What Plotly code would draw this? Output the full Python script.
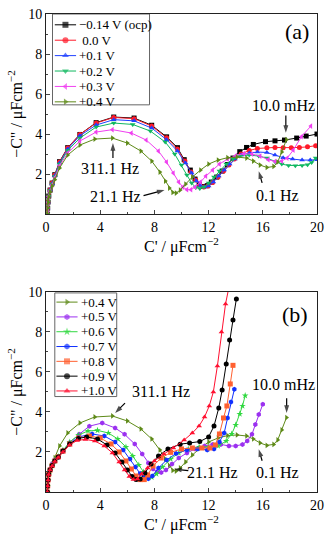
import plotly.graph_objects as go

# ---- panel (a): -0.14 V (ocp) .. +0.4 V
a_m014_x = [0.1, 0.12, 0.15, 0.2, 0.3, 0.45, 0.65, 1.0, 1.6, 2.5, 3.7, 5.0, 6.5, 7.8, 8.9, 9.7, 10.2, 10.65, 11.0, 11.3, 11.6, 11.9, 12.2, 12.6, 13.0, 13.4, 13.8, 14.3, 14.8, 15.3, 16.2, 16.9, 17.6, 18.5, 19.2, 20.0]
a_m014_y = [0.0, 0.3, 0.6, 0.9, 1.2, 1.55, 1.97, 2.62, 3.32, 3.98, 4.57, 4.85, 4.8, 4.44, 3.86, 3.32, 2.72, 2.2, 1.75, 1.5, 1.38, 1.42, 1.6, 1.85, 2.15, 2.48, 2.8, 3.12, 3.33, 3.48, 3.62, 3.66, 3.7, 3.8, 3.9, 4.0]

a_p00_x = [0.1, 0.12, 0.15, 0.2, 0.3, 0.45, 0.65, 1.0, 1.6, 2.5, 3.7, 5.0, 6.5, 7.8, 8.9, 9.7, 10.25, 10.7, 11.05, 11.35, 11.65, 11.95, 12.3, 12.7, 13.1, 13.5, 13.9, 14.4, 15.0, 15.6, 16.3, 16.9, 17.5, 18.1, 18.7, 19.3, 19.9]
a_p00_y = [0.0, 0.3, 0.6, 0.9, 1.2, 1.55, 1.95, 2.6, 3.3, 3.98, 4.55, 4.83, 4.77, 4.4, 3.82, 3.25, 2.65, 2.1, 1.7, 1.45, 1.35, 1.4, 1.58, 1.85, 2.15, 2.45, 2.75, 3.0, 3.18, 3.28, 3.32, 3.33, 3.32, 3.32, 3.33, 3.36, 3.42]

a_p01_x = [0.1, 0.12, 0.15, 0.2, 0.3, 0.45, 0.65, 1.0, 1.6, 2.5, 3.7, 5.0, 6.5, 7.8, 8.9, 9.7, 10.3, 10.75, 11.1, 11.4, 11.7, 12.0, 12.35, 12.75, 13.15, 13.55, 13.95, 14.4, 15.0, 15.6, 16.3, 16.9, 17.5, 18.2, 18.9, 19.5, 20.0]
a_p01_y = [0.0, 0.3, 0.6, 0.9, 1.2, 1.52, 1.92, 2.55, 3.25, 3.92, 4.45, 4.72, 4.66, 4.3, 3.72, 3.15, 2.55, 2.05, 1.65, 1.43, 1.35, 1.4, 1.6, 1.9, 2.2, 2.5, 2.75, 2.95, 3.05, 3.1, 3.08, 2.95, 2.82, 2.75, 2.7, 2.7, 2.72]

a_p02_x = [0.1, 0.12, 0.15, 0.2, 0.3, 0.45, 0.65, 1.0, 1.6, 2.5, 3.7, 5.0, 6.4, 7.7, 8.8, 9.5, 10.0, 10.4, 10.75, 11.05, 11.35, 11.65, 12.0, 12.4, 12.8, 13.3, 13.8, 14.3, 15.0, 15.7, 16.3, 16.9, 17.4, 17.9, 18.4, 18.9, 19.3, 19.6, 19.9]
a_p02_y = [0.0, 0.3, 0.6, 0.9, 1.18, 1.5, 1.88, 2.5, 3.18, 3.8, 4.35, 4.55, 4.48, 4.15, 3.6, 3.0, 2.45, 1.95, 1.55, 1.33, 1.28, 1.35, 1.55, 1.85, 2.15, 2.5, 2.75, 2.9, 2.95, 2.9, 2.8, 2.62, 2.5, 2.43, 2.42, 2.43, 2.47, 2.58, 2.8]

a_p03_x = [0.1, 0.12, 0.15, 0.2, 0.3, 0.45, 0.65, 1.0, 1.6, 2.5, 3.7, 4.9, 6.3, 7.4, 8.3, 8.9, 9.4, 9.8, 10.1, 10.4, 10.7, 11.0, 11.4, 11.8, 12.3, 12.8, 13.4, 14.0, 14.6, 15.2, 15.8, 16.4, 16.9, 17.4, 17.8, 18.25, 18.85, 19.55]
a_p03_y = [0.0, 0.3, 0.6, 0.88, 1.15, 1.45, 1.82, 2.42, 3.05, 3.65, 4.1, 4.22, 4.05, 3.7, 3.15, 2.6, 2.05, 1.6, 1.35, 1.22, 1.22, 1.35, 1.6, 1.9, 2.2, 2.5, 2.75, 2.92, 3.02, 3.0, 2.9, 2.72, 2.63, 2.65, 2.8, 3.2, 3.87, 4.4]

p04_x = [0.1, 0.12, 0.15, 0.2, 0.3, 0.45, 0.65, 1.0, 1.6, 2.5, 3.6, 4.9, 6.0, 7.0, 7.8, 8.4, 8.8, 9.1, 9.35, 9.6, 9.9, 10.3, 10.8, 11.4, 12.0, 12.7, 13.4, 14.1, 14.8, 15.3, 15.8, 16.3, 16.8, 17.1, 17.4, 17.75]
p04_y = [0.0, 0.3, 0.58, 0.85, 1.1, 1.4, 1.72, 2.3, 2.95, 3.45, 3.75, 3.8, 3.55, 3.15, 2.65, 2.1, 1.65, 1.3, 1.08, 1.05, 1.2, 1.5, 1.85, 2.2, 2.5, 2.7, 2.82, 2.85, 2.8, 2.65, 2.45, 2.33, 2.38, 2.6, 3.1, 3.72]

# ---- panel (b): +0.4 V .. +1.0 V
b_p05_x = [0.1, 0.12, 0.15, 0.2, 0.3, 0.45, 0.65, 0.9, 1.25, 1.75, 2.45, 3.2, 4.15, 5.1, 5.8, 6.55, 7.1, 7.55, 7.9, 8.2, 8.5, 8.85, 9.3, 9.8, 10.4, 11.0, 11.7, 12.3, 12.9, 13.5, 14.0, 14.5, 14.85, 15.2, 15.45, 15.7, 16.0]
b_p05_y = [0.0, 0.3, 0.6, 0.9, 1.15, 1.4, 1.6, 1.73, 2.06, 2.47, 2.88, 3.29, 3.45, 3.2, 2.88, 2.4, 1.9, 1.45, 1.15, 1.0, 0.98, 1.1, 1.4, 1.7, 1.95, 2.15, 2.3, 2.38, 2.38, 2.3, 2.3, 2.38, 2.55, 2.88, 3.37, 3.87, 4.39]

b_p06_x = [0.1, 0.12, 0.15, 0.2, 0.3, 0.45, 0.65, 0.9, 1.25, 1.75, 2.4, 3.1, 3.8, 4.6, 5.3, 5.9, 6.4, 6.85, 7.2, 7.5, 7.8, 8.15, 8.6, 9.2, 9.8, 10.5, 11.3, 12.0, 12.7, 13.3, 13.7, 14.0, 14.3, 14.5, 14.7]
b_p06_y = [0.0, 0.3, 0.6, 0.88, 1.12, 1.35, 1.58, 1.78, 2.1, 2.5, 2.85, 3.05, 3.08, 2.95, 2.65, 2.25, 1.8, 1.35, 1.0, 0.8, 0.74, 0.9, 1.25, 1.65, 1.95, 2.15, 2.25, 2.25, 2.3, 2.55, 2.9, 3.35, 3.9, 4.3, 4.82]

b_p07_x = [0.1, 0.12, 0.15, 0.2, 0.3, 0.45, 0.65, 0.9, 1.25, 1.75, 2.4, 3.4, 4.3, 5.1, 5.7, 6.2, 6.6, 6.95, 7.25, 7.55, 7.85, 8.3, 8.9, 9.6, 10.4, 11.2, 11.9, 12.4, 12.8, 13.15, 13.4, 13.65, 13.9]
b_p07_y = [0.0, 0.3, 0.6, 0.88, 1.1, 1.32, 1.55, 1.75, 2.05, 2.42, 2.75, 2.9, 2.8, 2.5, 2.1, 1.65, 1.25, 0.92, 0.72, 0.66, 0.8, 1.2, 1.6, 1.92, 2.1, 2.15, 2.1, 2.15, 2.5, 2.95, 3.7, 4.5, 5.13]

b_p08_x = [0.1, 0.12, 0.15, 0.2, 0.3, 0.45, 0.65, 0.9, 1.25, 1.75, 2.4, 3.2, 4.0, 4.8, 5.4, 5.9, 6.3, 6.65, 6.95, 7.25, 7.5, 7.9, 8.5, 9.2, 10.0, 10.8, 11.5, 12.1, 12.5, 12.8, 13.1, 13.35, 13.6, 13.8]
b_p08_y = [0.0, 0.3, 0.6, 0.88, 1.1, 1.32, 1.55, 1.75, 2.05, 2.4, 2.7, 2.8, 2.7, 2.4, 2.0, 1.55, 1.15, 0.8, 0.62, 0.62, 0.85, 1.3, 1.7, 1.98, 2.15, 2.2, 2.2, 2.2, 2.35, 2.9, 3.7, 4.3, 5.4, 6.33]

b_p09_x = [0.1, 0.12, 0.15, 0.2, 0.3, 0.45, 0.65, 0.9, 1.25, 1.75, 2.4, 3.0, 3.8, 4.5, 5.1, 5.6, 6.0, 6.35, 6.65, 6.95, 7.3, 7.75, 8.3, 9.0, 9.9, 10.6, 11.35, 12.0, 12.4, 12.75, 13.0, 13.3, 13.55, 13.8, 14.05]
b_p09_y = [0.0, 0.3, 0.6, 0.88, 1.1, 1.32, 1.55, 1.75, 2.05, 2.4, 2.68, 2.75, 2.65, 2.35, 1.95, 1.5, 1.1, 0.78, 0.62, 0.65, 0.95, 1.4, 1.8, 2.15, 2.39, 2.45, 2.52, 2.75, 3.3, 4.2, 5.1, 6.4, 7.6, 8.6, 9.65]

b_p10_x = [0.1, 0.12, 0.15, 0.2, 0.3, 0.45, 0.65, 0.9, 1.25, 1.75, 2.3, 2.9, 3.6, 4.3, 4.9, 5.4, 5.8, 6.15, 6.45, 6.75, 7.05, 7.5, 8.0, 8.7, 9.4, 10.2, 10.8, 11.3, 11.7, 12.05, 12.35, 12.65, 12.95, 13.25, 13.55]
b_p10_y = [0.0, 0.3, 0.6, 0.88, 1.1, 1.3, 1.52, 1.72, 2.0, 2.35, 2.58, 2.63, 2.55, 2.3, 1.95, 1.5, 1.1, 0.78, 0.62, 0.65, 0.9, 1.2, 1.55, 1.9, 2.2, 2.6, 2.95, 3.3, 3.75, 4.3, 5.0, 6.3, 8.0, 9.4, 10.4]

a_labels = ["\u22120.14 V (ocp)", " 0.0 V", "+0.1 V", "+0.2 V", "+0.3 V", "+0.4 V"]
b_labels = ["+0.4 V", "+0.5 V", "+0.6 V", "+0.7 V", "+0.8 V", "+0.9 V", "+1.0 V"]

x_ticks = [0, 4, 8, 12, 16, 20]
y_ticks = [2, 4, 6, 8, 10]

FONT = "Times New Roman, Liberation Serif, DejaVu Serif, serif"

panel_a = [
    (a_m014_x, a_m014_y, "#000000", "square"),
    (a_p00_x, a_p00_y, "#ff1a2a", "circle"),
    (a_p01_x, a_p01_y, "#2040ff", "triangle-up"),
    (a_p02_x, a_p02_y, "#10b860", "triangle-down"),
    (a_p03_x, a_p03_y, "#f040f0", "triangle-left"),
    (p04_x, p04_y, "#5e8a18", "triangle-right"),
]
panel_b = [
    (p04_x, p04_y, "#5e8a18", "triangle-right"),
    (b_p05_x, b_p05_y, "#9b30f0", "hexagon"),
    (b_p06_x, b_p06_y, "#30d840", "star"),
    (b_p07_x, b_p07_y, "#1030ff", "hexagon"),
    (b_p08_x, b_p08_y, "#ff6030", "square"),
    (b_p09_x, b_p09_y, "#000000", "circle"),
    (b_p10_x, b_p10_y, "#ff1030", "triangle-up"),
]

fig = go.Figure()

def add_panel(series, labels, xa, ya, row0, drow, lx0, lx1, tx, box):
    for (xs, ys, col, sym), lab in zip(series, labels):
        fig.add_trace(go.Scatter(
            x=xs, y=ys, mode="lines+markers", xaxis=xa, yaxis=ya,
            line=dict(color=col, width=1), marker=dict(color=col, symbol=sym, size=5, line=dict(width=0)),
            showlegend=False))
    # hand drawn legend
    for i, ((xs, ys, col, sym), lab) in enumerate(zip(series, labels)):
        yy = row0 - i * drow
        fig.add_trace(go.Scatter(
            x=[lx0, (lx0 + lx1) / 2, lx1], y=[yy, yy, yy], mode="lines+markers",
            xaxis=xa, yaxis=ya, line=dict(color=col, width=1),
            marker=dict(color=col, symbol=sym, size=[0, 6, 0], line=dict(width=0)),
            showlegend=False, hoverinfo="skip"))
        fig.add_annotation(x=tx, y=yy, xref=xa, yref=ya, text=lab, showarrow=False,
                           xanchor="left", yanchor="middle",
                           font=dict(family=FONT, size=13, color="black"))
    fig.add_shape(type="rect", xref=xa, yref=ya, x0=box[0], x1=box[1], y0=box[2], y1=box[3],
                  line=dict(color="#666", width=1))

add_panel(panel_a, a_labels, "x", "y", 9.46, 0.77, 0.65, 2.22, 2.3, (0.48, 7.64, 5.46, 10.0))
add_panel(panel_b, b_labels, "x2", "y2", 9.49, 0.74, 0.77, 2.33, 2.4, (0.65, 5.22, 4.77, 9.95))

def label(xa, ya, x, y, text, size=16):
    fig.add_annotation(x=x, y=y, xref=xa, yref=ya, text=text, showarrow=False,
                       font=dict(family=FONT, size=size, color="black"))

def arrow(xa, ya, x0, y0, x1, y1):
    # shaft plus an arrow head marker pointing along the segment
    fig.add_trace(go.Scatter(
        x=[x0, x1], y=[y0, y1], xaxis=xa, yaxis=ya, mode="lines+markers",
        line=dict(color="black", width=1.2),
        marker=dict(symbol=["circle", "arrow"], size=[0, 8], color="black", angleref="previous",
                    line=dict(width=0)),
        showlegend=False, hoverinfo="skip", cliponaxis=False))

label("x", "y", 4.7, 2.3, "311.1 Hz")
arrow("x", "y", 4.94, 2.8, 4.94, 3.55)
label("x", "y", 5.1, 0.86, "21.1 Hz")
arrow("x", "y", 7.2, 0.92, 8.75, 1.2)
label("x", "y", 17.05, 0.95, "0.1 Hz")
arrow("x", "y", 15.95, 1.56, 15.7, 2.14)
label("x", "y", 17.5, 5.43, "10.0 mHz")
arrow("x", "y", 17.7, 4.93, 17.7, 4.06)
label("x", "y", 18.5, 9.13, "(a)", 22)

label("x2", "y2", 8.5, 5.0, "311.1 Hz")
arrow("x2", "y2", 5.83, 4.44, 5.1, 3.95)
label("x2", "y2", 12.3, 0.99, "21.1 Hz")
arrow("x2", "y2", 10.5, 1.07, 9.45, 1.15)
label("x2", "y2", 17.1, 0.99, "0.1 Hz")
arrow("x2", "y2", 15.95, 1.56, 15.7, 2.14)
label("x2", "y2", 17.5, 5.35, "10.0 mHz")
arrow("x2", "y2", 17.76, 4.69, 17.76, 3.95)
label("x2", "y2", 18.4, 8.88, "(b)", 22)

xstyle = dict(range=[0, 20], tickvals=x_ticks, ticks="inside", ticklen=4, tickwidth=1,
              minor=dict(dtick=2, ticks="inside", ticklen=2, tickwidth=1),
              showline=True, linecolor="#222", linewidth=1, mirror=True, showgrid=False,
              zeroline=False, tickfont=dict(family=FONT, size=14, color="black"),
              title=dict(text="C' / \u03bcFcm<sup>\u22122</sup>", font=dict(family=FONT, size=16, color="black"),
                         standoff=5))
ystyle = dict(range=[0, 10], tickvals=y_ticks, ticks="inside", ticklen=4, tickwidth=1,
              minor=dict(dtick=1, ticks="inside", ticklen=2, tickwidth=1),
              showline=True, linecolor="#222", linewidth=1, mirror=True, showgrid=False,
              zeroline=False, tickfont=dict(family=FONT, size=14, color="black"),
              title=dict(text="\u2212C\" / \u03bcFcm<sup>\u22122</sup>", font=dict(family=FONT, size=16, color="black"),
                         standoff=1))

fig.update_layout(
    width=331, height=540,
    margin=dict(l=46, r=8, t=7, b=48),
    paper_bgcolor="white", plot_bgcolor="white",
    showlegend=False,
    xaxis=dict(**xstyle, domain=[0, 1], anchor="y"),
    yaxis=dict(**ystyle, domain=[0.5814, 1], anchor="x"),
    xaxis2=dict(**xstyle, domain=[0, 1], anchor="y2"),
    yaxis2=dict(**ystyle, domain=[0, 0.4186], anchor="x2"),
)

fig.write_html("out.html", config={"displayModeBar": False},
               post_script="document.body.style.margin='0';")
